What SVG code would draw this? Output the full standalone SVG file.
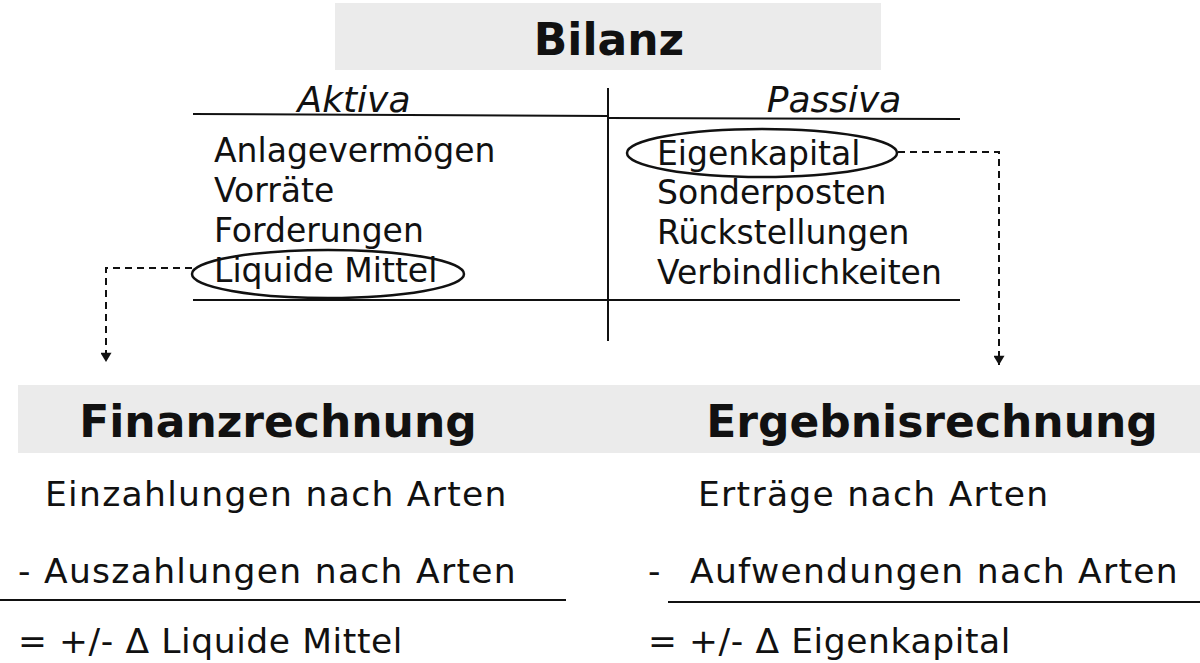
<svg xmlns="http://www.w3.org/2000/svg" width="1200" height="663" viewBox="0 0 1200 663">
<defs>
<style>
text{font-family:"DejaVu Sans",Verdana,sans-serif;fill:#111}
.t{font-weight:bold;font-size:44px}
.i{font-size:33px}
.b{font-size:34.5px;letter-spacing:1.3px}
.r{letter-spacing:0.6px}
.h{font-style:italic;font-size:36px}
.ln{stroke:#111;stroke-width:2;fill:none}
.el{stroke:#111;stroke-width:2.5;fill:none}
.band{fill:#ebebeb}
.dash{stroke:#111;stroke-width:2;fill:none;stroke-dasharray:7,5}
</style>
<marker id="ah" viewBox="0 0 10 12" refX="10" refY="6" markerWidth="12" markerHeight="11" markerUnits="userSpaceOnUse" orient="auto">
<path d="M0,0 L10,6 L0,12 z" fill="#111"/>
</marker>
</defs>
<rect width="1200" height="663" fill="#fff"/>
<g id="bilanz">
<rect class="band" x="335" y="3" width="546" height="67"/>
<text class="t" x="609" y="55" font-size="45" text-anchor="middle">Bilanz</text>
<text class="h" x="354" y="112" text-anchor="middle">Aktiva</text>
<text class="h" x="834" y="112" text-anchor="middle">Passiva</text>
<line class="ln" x1="193" y1="114" x2="608" y2="116"/>
<line class="ln" x1="608" y1="118" x2="960" y2="119"/>
<line class="ln" x1="608" y1="88" x2="608" y2="341"/>
<line class="ln" x1="193" y1="300" x2="960" y2="300"/>
</g>
<g id="aktiva">
<text class="i" x="214" y="162">Anlagevermögen</text>
<text class="i" x="214" y="202">Vorräte</text>
<text class="i" x="214" y="242">Forderungen</text>
<text class="i" x="214" y="282">Liquide Mittel</text>
<ellipse id="liquide" class="el" cx="328" cy="274" rx="136" ry="24"/>
</g>
<g id="passiva">
<text class="i" x="657" y="165">Eigenkapital</text>
<text class="i" x="657" y="204">Sonderposten</text>
<text class="i" x="657" y="244">Rückstellungen</text>
<text class="i" x="657" y="284">Verbindlichkeiten</text>
<ellipse id="eigen" class="el" cx="762" cy="153" rx="135" ry="24"/>
</g>
<g id="connectors">
<path class="dash" d="M192,268 H106 V362" marker-end="url(#ah)"/>
<path class="dash" d="M898,152 H999 V365" marker-end="url(#ah)"/>
</g>
<g id="finanzrechnung">
<rect class="band" x="18" y="385" width="1182" height="68"/>
<text class="t" x="278" y="437" text-anchor="middle">Finanzrechnung</text>
<text class="b" x="45" y="506">Einzahlungen nach Arten</text>
<text class="b" x="18" y="583">- Auszahlungen nach Arten</text>
<line class="ln" x1="0" y1="600" x2="566" y2="600"/>
<text class="b r" x="18" y="653">= +/- Δ Liquide Mittel</text>
</g>
<g id="ergebnisrechnung">
<text class="t" x="932" y="437" text-anchor="middle">Ergebnisrechnung</text>
<text class="b" x="698" y="506">Erträge nach Arten</text>
<text class="b" x="648" y="583">-</text>
<text class="b" x="690" y="583">Aufwendungen nach Arten</text>
<line class="ln" x1="668" y1="602" x2="1200" y2="602"/>
<text class="b r" x="648" y="653">= +/- Δ Eigenkapital</text>
</g>
</svg>
